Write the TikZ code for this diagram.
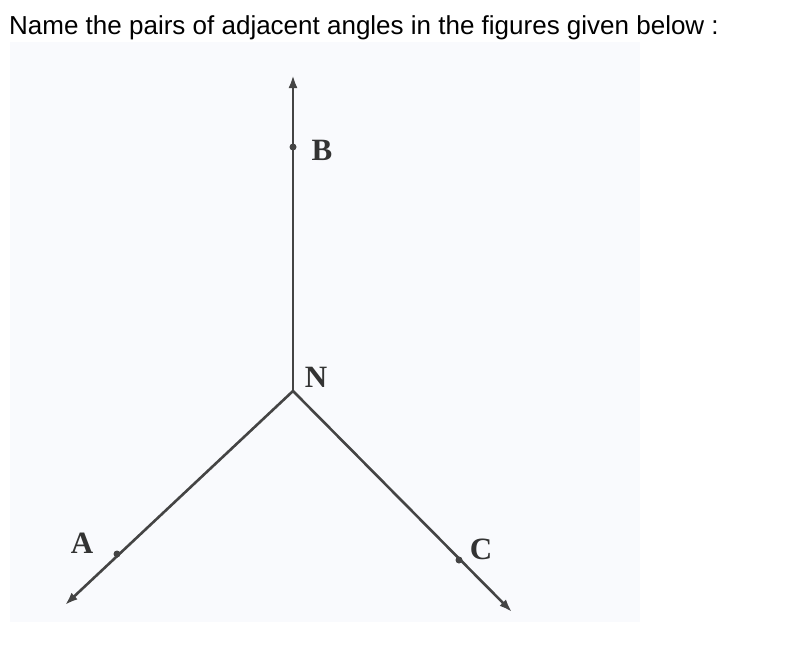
\documentclass[tikz,border=0pt]{standalone}
\usepackage{fontspec}
\setmainfont{Liberation Sans}
\newfontfamily\labfont{Liberation Serif}
\usetikzlibrary{arrows.meta}
\definecolor{raycol}{HTML}{444444}
\definecolor{scanbg}{HTML}{F9FAFD}
\tikzset{
  ray/.style={draw=raycol, line width=2.6pt, -{Latex[length=13pt,width=9pt]}},
  pt/.style={circle, fill=raycol, inner sep=0pt, minimum size=7pt},
  lab/.style={font=\labfont\bfseries\fontsize{31}{31}\selectfont, text=black!80, inner sep=0pt},
  title/.style={font=\fontsize{26}{30}\selectfont, anchor=base west, inner sep=0pt}
}
\begin{document}
\begin{tikzpicture}[x=1pt,y=-1pt]
\useasboundingbox (0,0) rectangle (800,659);
\fill[scanbg] (10,42) rectangle (640,622);
\node[title] (t) at (9,34) {Name the pairs of adjacent angles in the figures given below :};
\coordinate (N) at (293,391);
\coordinate (Bend) at (293,75);
\coordinate (Aend) at (65,605);
\coordinate (Cend) at (512,612);
\draw[ray] (N) -- (Bend);
\draw[ray] (N) -- (Aend);
\draw[ray] (N) -- (Cend);
\node[pt] (B) at (293,147) {};
\node[pt] (A) at (117,554) {};
\node[pt] (C) at (459,560) {};
\node[lab] (lB) at (322,150) {B};
\node[lab] (lN) at (316,377) {N};
\node[lab] (lA) at (82,543) {A};
\node[lab] (lC) at (481,549) {C};
\end{tikzpicture}
\end{document}
